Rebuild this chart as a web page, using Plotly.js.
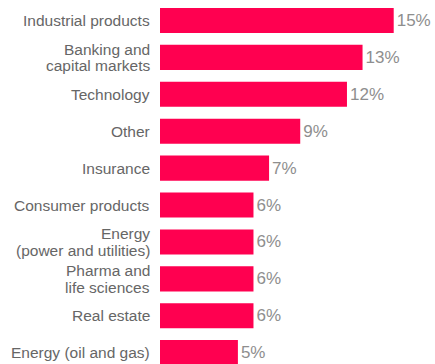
<!DOCTYPE html>
<html>
<head>
<meta charset="utf-8">
<script src="https://cdn.plot.ly/plotly-3.0.1.min.js"></script>
<style>html,body{margin:0;padding:0;background:#fff;}#chart{width:435px;height:364px;}</style>
</head>
<body>
<div id="chart"></div>
<script>
const categories = [
  "Industrial products",
  "Banking and\ncapital markets",
  "Technology",
  "Other",
  "Insurance",
  "Consumer products",
  "Energy\n(power and utilities)",
  "Pharma and\nlife sciences",
  "Real estate",
  "Energy (oil and gas)"
];
const values = [15, 13, 12, 9, 7, 6, 6, 6, 6, 5];

const FONT = "'Liberation Sans', Arial, Helvetica, sans-serif";
const LINE_GAP = 16.5;

const annotations = [];
categories.forEach(function (cat) {
  const lines = cat.split("\n");
  const n = lines.length;
  lines.forEach(function (line, i) {
    annotations.push({
      xref: "paper", yref: "y",
      x: 0, y: cat,
      xanchor: "right", yanchor: "middle",
      xshift: -9,
      yshift: ((n - 1) / 2 - i) * LINE_GAP,
      text: line,
      showarrow: false,
      borderpad: 0,
      font: {family: FONT, size: 15.5, color: "#666666"}
    });
  });
});

const trace = {
  type: "bar",
  orientation: "h",
  y: categories,
  x: values,
  width: 0.68,
  marker: {color: "#ff0050"},
  text: values.map(function (v) { return v + "%"; }),
  textposition: "outside",
  textfont: {family: FONT, size: 17, color: "#8e8e8e"},
  cliponaxis: false,
  hoverinfo: "none"
};

const layout = {
  width: 435, height: 364,
  margin: {l: 160, r: 0, t: 0, b: 0, pad: 0},
  paper_bgcolor: "#ffffff",
  plot_bgcolor: "#ffffff",
  showlegend: false,
  xaxis: {range: [0, 17.65], visible: false, fixedrange: true},
  yaxis: {
    type: "category",
    range: [9.308, -0.556],
    showticklabels: false,
    showgrid: false, zeroline: false, showline: false, ticks: "",
    fixedrange: true
  },
  annotations: annotations
};

Plotly.newPlot("chart", [trace], layout, {displayModeBar: false, staticPlot: true});
</script>
</body>
</html>
